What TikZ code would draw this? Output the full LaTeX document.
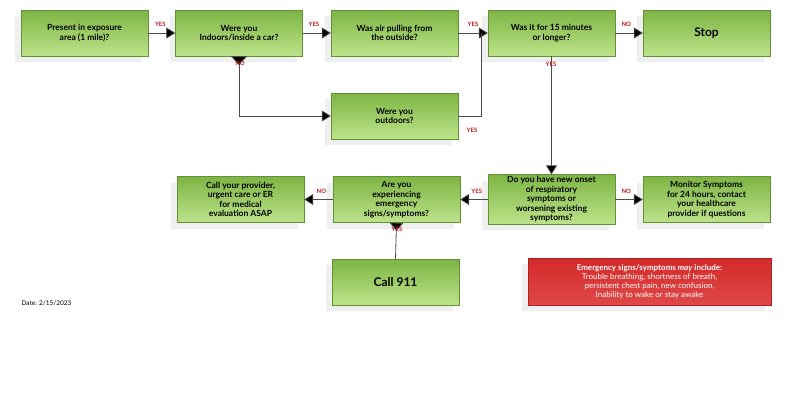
\documentclass[tikz,border=0pt]{standalone}
\usepackage{fontspec}
\setmainfont{Lato}
\usetikzlibrary{arrows.meta,shadows}
\definecolor{gtop}{HTML}{7DB544}
\definecolor{gbot}{HTML}{BDE38A}
\definecolor{rtop}{HTML}{D42A2A}
\definecolor{rbot}{HTML}{E04848}
\definecolor{lab}{HTML}{C0161C}
\tikzset{
 box/.style={minimum width=127pt,minimum height=46pt,align=center,font=\bfseries\fontsize{8.5}{9.5}\selectfont,
   top color=gtop,bottom color=gbot,draw=gtop!80!black,line width=0.4pt,inner sep=2pt,
   drop shadow={shadow xshift=-6pt,shadow yshift=-6pt,fill=black!10,opacity=0.6}},
 big/.style={box,font=\bfseries\fontsize{12}{14}\selectfont},
 conn/.style={draw=black!70,line width=0.8pt,-{Triangle[length=9pt,width=11pt,fill=black]}},
 lbl/.style={font=\bfseries\fontsize{6}{7}\selectfont,text=lab,inner sep=1pt},
}
\begin{document}
\begin{tikzpicture}[x=1pt,y=-1pt]
\useasboundingbox (0,0) rectangle (792,416);
\node[box] (b1) at (84.5,33) {Present in exposure\\area (1 mile)?};
\node[box] (b2) at (239,33) {Were you\\Indoors/inside a car?};
\node[box] (b3) at (394.5,33) {Was air pulling from\\the outside?};
\node[box] (b4) at (551.5,33) {Was it for 15 minutes\\or longer?};
\node[big] (stop) at (706.5,33) {Stop};
\node[box] (out) at (394.5,116) {Were you\\outdoors?};
\node[box] (q5) at (551.5,199.5) {Do you have new onset\\of respiratory\\symptoms or\\worsening existing\\symptoms?};
\node[box] (mon) at (706.5,199.5) {Monitor Symptoms\\for 24 hours, contact\\your healthcare\\provider if questions};
\node[box] (q6) at (396.5,199.5) {Are you\\experiencing\\emergency\\signs/symptoms?};
\node[box] (call) at (240.5,199.5) {Call your provider,\\urgent care or ER\\for medical\\evaluation ASAP};
\node[big] (c911) at (395.5,282) {Call 911};
\node[minimum width=243pt,minimum height=47pt,align=center,top color=rtop,bottom color=rbot,draw=rtop!80!black,
  text=white,font=\fontsize{8}{9}\selectfont,inner sep=2pt,
  drop shadow={shadow xshift=-6pt,shadow yshift=-6pt,fill=black!10,opacity=0.6}] (red) at (649.5,281.5)
  {\textbf{Emergency signs/symptoms \textit{may} include:}\\Trouble breathing, shortness of breath,\\persistent chest pain, new confusion,\\Inability to wake or stay awake};
\node[font=\fontsize{6.5}{7}\selectfont,anchor=west] (date) at (18,303) {Date: 2/15/2023};

\draw[conn] (b1) -- node[lbl,above,pos=0.45,yshift=5pt]{YES} (b2);
\draw[conn] (b2) -- node[lbl,above,pos=0.4,yshift=5pt]{YES} (b3);
\draw[conn] (b3) -- node[lbl,above,pos=0.5,yshift=5pt]{YES} (b4);
\draw[conn] (b4) -- node[lbl,above,pos=0.4,yshift=5pt]{NO} (stop);
\draw[conn,{Triangle[reversed,length=9pt,width=16pt,fill=black]}-{Triangle[length=9pt,width=11pt,fill=black]}] (b2.south) -- node[lbl,pos=0.04,above,yshift=1pt]{} (239,116) -- (out.west);
\node[lbl] (nolbl) at (240,63) {NO};
\coordinate (j) at (481,33);
\draw[draw=black!70,line width=0.8pt] (out.east) -- (481,116) -- (j);
\node[lbl] (yeslbl) at (472,130) {YES};
\draw[conn] (b4.south) -- (q5.north);
\node[lbl] (yes2) at (551,64) {YES};
\draw[conn] (q5) -- node[lbl,above,pos=0.4,yshift=5pt]{NO} (mon);
\draw[conn] (q5) -- node[lbl,above,pos=0.4,yshift=5pt]{YES} (q6);
\draw[conn] (q6) -- node[lbl,above,pos=0.4,yshift=5pt]{NO} (call);
\draw[conn,{Triangle[reversed,length=8pt,width=14pt,fill=black]}-] (q6.south) -- (c911.north);
\node[lbl] (yes3) at (397,229) {YES};
\end{tikzpicture}
\end{document}
